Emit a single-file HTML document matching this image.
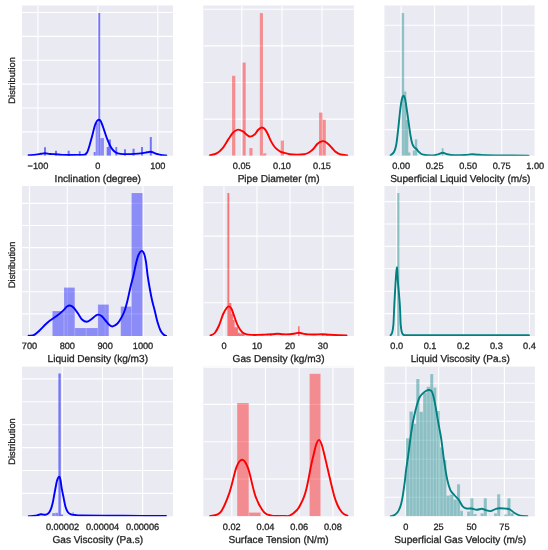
<!DOCTYPE html><html><head><meta charset="utf-8"><style>html,body{margin:0;padding:0;background:#fff;}svg{display:block;filter:blur(0.3px);}text{text-rendering:geometricPrecision;font-family:"Liberation Sans",Arial,sans-serif;fill:#262626;stroke:#262626;stroke-width:0.3px;}</style></head><body>
<svg width="548" height="550" viewBox="0 0 548 550">
<rect x="0" y="0" width="548" height="550" fill="#fff"/>
<defs><clipPath id="c00"><rect x="22.00" y="5.50" width="151.00" height="150.20"/></clipPath></defs>
<rect x="22.00" y="5.50" width="151.00" height="150.20" fill="#EAEAF2"/>
<path d="M37.90,5.50V155.70 M97.90,5.50V155.70 M157.80,5.50V155.70 M22.00,131.84H173.00 M22.00,107.98H173.00 M22.00,84.12H173.00 M22.00,60.26H173.00 M22.00,36.40H173.00 M22.00,12.54H173.00" stroke="#fff" stroke-width="1.1" fill="none" clip-path="url(#c00)"/>
<path d="M95.60,155.70H98.30V123.00H95.60Z M100.20,155.70H104.00V137.90H100.20Z" fill="#0000FF" fill-opacity="0.40" clip-path="url(#c00)"/>
<path d="M44.00,155.70H46.00V147.20H44.00Z M55.00,155.70H57.00V150.70H55.00Z M67.70,155.70H69.70V150.70H67.70Z M78.80,155.70H80.60V151.20H78.80Z M85.20,155.70H86.60V152.50H85.20Z M93.70,155.70H95.60V152.00H93.70Z M98.30,155.70H100.20V13.10H98.30Z M106.70,155.70H108.50V147.00H106.70Z M108.50,155.70H110.90V139.40H108.50Z M115.40,155.70H117.20V147.00H115.40Z M124.00,155.70H126.00V149.30H124.00Z M132.50,155.70H134.60V148.70H132.50Z M141.00,155.70H143.00V147.00H141.00Z M149.80,155.70H151.80V136.90H149.80Z" fill="#0000FF" fill-opacity="0.50" clip-path="url(#c00)"/>
<path d="M95.60,155.70V123.00H98.30V155.70 M100.20,155.70V137.90H104.00V155.70" fill="none" stroke="#fff" stroke-opacity="0.3" stroke-width="0.45" clip-path="url(#c00)"/>
<path d="M28.60,155.30 C29.83,155.18 33.93,154.85 36.00,154.60 C38.07,154.35 39.50,154.02 41.00,153.80 C42.50,153.58 43.50,153.27 45.00,153.30 C46.50,153.33 48.20,153.83 50.00,154.00 C51.80,154.17 53.80,154.15 55.80,154.30 C57.80,154.45 59.63,154.78 62.00,154.90 C64.37,155.02 67.33,155.00 70.00,155.00 C72.67,155.00 75.57,154.97 78.00,154.90 C80.43,154.83 83.10,155.00 84.60,154.60 C86.10,154.20 86.33,153.52 87.00,152.50 C87.67,151.48 88.07,150.08 88.60,148.50 C89.13,146.92 89.63,145.00 90.20,143.00 C90.77,141.00 91.22,139.42 92.00,136.50 C92.78,133.58 94.07,128.08 94.90,125.50 C95.73,122.92 96.33,121.97 97.00,121.00 C97.67,120.03 98.27,119.67 98.90,119.70 C99.53,119.73 100.08,119.90 100.80,121.20 C101.52,122.50 102.23,124.78 103.20,127.50 C104.17,130.22 105.47,134.50 106.60,137.50 C107.73,140.50 108.87,143.33 110.00,145.50 C111.13,147.67 112.10,149.20 113.40,150.50 C114.70,151.80 115.70,152.70 117.80,153.30 C119.90,153.90 123.30,154.00 126.00,154.10 C128.70,154.20 131.25,154.07 134.00,153.90 C136.75,153.73 140.33,153.37 142.50,153.10 C144.67,152.83 145.63,152.52 147.00,152.30 C148.37,152.08 149.53,151.72 150.70,151.80 C151.87,151.88 152.92,152.43 154.00,152.80 C155.08,153.17 156.03,153.63 157.20,154.00 C158.37,154.37 159.48,154.77 161.00,155.00 C162.52,155.23 165.42,155.33 166.30,155.40" stroke="#0000FF" stroke-width="1.9" fill="none" stroke-linecap="round" stroke-linejoin="round" clip-path="url(#c00)"/>
<text x="37.90" y="169.10" font-size="9.2" text-anchor="middle">−100</text>
<text x="97.90" y="169.10" font-size="9.2" text-anchor="middle">0</text>
<text x="157.80" y="169.10" font-size="9.2" text-anchor="middle">100</text>
<text x="97.80" y="181.90" font-size="10.1" text-anchor="middle">Inclination (degree)</text>
<text x="14.8" y="80.40" font-size="9.3" text-anchor="middle" transform="rotate(-90 14.8 80.40)">Distribution</text>
<defs><clipPath id="c01"><rect x="203.30" y="5.50" width="150.60" height="150.20"/></clipPath></defs>
<rect x="203.30" y="5.50" width="150.60" height="150.20" fill="#EAEAF2"/>
<path d="M241.80,5.50V155.70 M282.00,5.50V155.70 M322.00,5.50V155.70 M203.30,119.10H353.90 M203.30,82.50H353.90 M203.30,45.90H353.90 M203.30,9.30H353.90" stroke="#fff" stroke-width="1.1" fill="none" clip-path="url(#c01)"/>
<path d="M232.00,155.70H235.40V75.80H232.00Z M242.50,155.70H245.80V62.40H242.50Z M249.30,155.70H252.60V147.90H249.30Z M259.80,155.70H263.00V13.10H259.80Z M263.00,155.70H266.30V153.20H263.00Z M280.70,155.70H284.00V140.50H280.70Z M319.00,155.70H322.50V112.50H319.00Z M322.50,155.70H325.90V119.80H322.50Z" fill="#FF0000" fill-opacity="0.40" clip-path="url(#c01)"/>
<path d="M232.00,155.70V75.80H235.40V155.70 M242.50,155.70V62.40H245.80V155.70 M249.30,155.70V147.90H252.60V155.70 M259.80,155.70V13.10H263.00V155.70 M263.00,155.70V153.20H266.30V155.70 M280.70,155.70V140.50H284.00V155.70 M319.00,155.70V112.50H322.50V155.70 M322.50,155.70V119.80H325.90V155.70" fill="none" stroke="#fff" stroke-opacity="0.3" stroke-width="0.45" clip-path="url(#c01)"/>
<path d="M209.80,155.30 C210.93,154.98 214.48,154.57 216.60,153.40 C218.72,152.23 220.55,150.63 222.50,148.30 C224.45,145.97 226.52,142.05 228.30,139.40 C230.08,136.75 231.58,134.03 233.20,132.40 C234.82,130.77 236.38,129.77 238.00,129.60 C239.62,129.43 241.48,130.58 242.90,131.40 C244.32,132.22 245.32,133.63 246.50,134.50 C247.68,135.37 248.65,136.60 250.00,136.60 C251.35,136.60 253.27,135.60 254.60,134.50 C255.93,133.40 256.87,131.15 258.00,130.00 C259.13,128.85 260.32,127.80 261.40,127.60 C262.48,127.40 263.48,127.82 264.50,128.80 C265.52,129.78 266.40,131.40 267.50,133.50 C268.60,135.60 269.93,139.18 271.10,141.40 C272.27,143.62 273.52,145.50 274.50,146.80 C275.48,148.10 275.95,148.37 277.00,149.20 C278.05,150.03 279.80,151.25 280.80,151.80 C281.80,152.35 281.53,152.10 283.00,152.50 C284.47,152.90 287.27,153.85 289.60,154.20 C291.93,154.55 294.57,154.60 297.00,154.60 C299.43,154.60 302.37,154.47 304.20,154.20 C306.03,153.93 306.78,153.60 308.00,153.00 C309.22,152.40 310.42,151.52 311.50,150.60 C312.58,149.68 313.53,148.60 314.50,147.50 C315.47,146.40 316.33,144.95 317.30,144.00 C318.27,143.05 319.32,142.28 320.30,141.80 C321.28,141.32 322.25,141.03 323.20,141.10 C324.15,141.17 325.03,141.60 326.00,142.20 C326.97,142.80 328.00,143.73 329.00,144.70 C330.00,145.67 331.02,146.90 332.00,148.00 C332.98,149.10 333.90,150.42 334.90,151.30 C335.90,152.18 337.03,152.77 338.00,153.30 C338.97,153.83 339.15,154.15 340.70,154.50 C342.25,154.85 346.20,155.25 347.30,155.40" stroke="#FF0000" stroke-width="1.9" fill="none" stroke-linecap="round" stroke-linejoin="round" clip-path="url(#c01)"/>
<text x="241.80" y="169.10" font-size="9.2" text-anchor="middle">0.05</text>
<text x="282.00" y="169.10" font-size="9.2" text-anchor="middle">0.10</text>
<text x="322.00" y="169.10" font-size="9.2" text-anchor="middle">0.15</text>
<text x="278.60" y="181.90" font-size="10.1" text-anchor="middle">Pipe Diameter (m)</text>
<defs><clipPath id="c02"><rect x="384.40" y="5.50" width="150.50" height="150.20"/></clipPath></defs>
<rect x="384.40" y="5.50" width="150.50" height="150.20" fill="#EAEAF2"/>
<path d="M401.10,5.50V155.70 M434.60,5.50V155.70 M468.10,5.50V155.70 M501.70,5.50V155.70 M535.20,5.50V155.70 M384.40,129.60H534.90 M384.40,103.50H534.90 M384.40,77.40H534.90 M384.40,51.30H534.90 M384.40,25.20H534.90" stroke="#fff" stroke-width="1.1" fill="none" clip-path="url(#c02)"/>
<path d="M401.70,155.70H404.20V13.10H401.70Z M404.20,155.70H406.30V91.50H404.20Z M406.30,155.70H408.30V120.00H406.30Z M408.30,155.70H410.30V152.40H408.30Z M412.90,155.70H414.80V150.40H412.90Z M414.80,155.70H417.30V139.30H414.80Z M441.70,155.70H443.50V148.20H441.70Z" fill="#008080" fill-opacity="0.40" clip-path="url(#c02)"/>
<path d="M401.70,155.70V13.10H404.20V155.70 M414.80,155.70V139.30H417.30V155.70" fill="none" stroke="#fff" stroke-opacity="0.3" stroke-width="0.45" clip-path="url(#c02)"/>
<path d="M390.60,155.30 C391.17,154.75 393.10,153.55 394.00,152.00 C394.90,150.45 395.45,148.50 396.00,146.00 C396.55,143.50 396.85,140.62 397.30,137.00 C397.75,133.38 398.22,128.80 398.70,124.30 C399.18,119.80 399.70,114.05 400.20,110.00 C400.70,105.95 401.17,102.37 401.70,100.00 C402.23,97.63 402.82,95.88 403.40,95.80 C403.98,95.72 404.60,96.97 405.20,99.50 C405.80,102.03 406.38,106.87 407.00,111.00 C407.62,115.13 408.32,120.22 408.90,124.30 C409.48,128.38 409.95,132.28 410.50,135.50 C411.05,138.72 411.62,141.68 412.20,143.60 C412.78,145.52 413.28,146.10 414.00,147.00 C414.72,147.90 415.67,148.17 416.50,149.00 C417.33,149.83 417.88,151.07 419.00,152.00 C420.12,152.93 420.87,154.03 423.20,154.60 C425.53,155.17 430.53,155.45 433.00,155.40 C435.47,155.35 436.37,154.73 438.00,154.30 C439.63,153.87 441.30,152.82 442.80,152.80 C444.30,152.78 445.13,153.80 447.00,154.20 C448.87,154.60 451.00,155.07 454.00,155.20 C457.00,155.33 462.00,155.15 465.00,155.00 C468.00,154.85 469.50,154.33 472.00,154.30 C474.50,154.27 475.33,154.62 480.00,154.80 C484.67,154.98 491.92,155.27 500.00,155.40 C508.08,155.53 523.75,155.57 528.50,155.60" stroke="#008080" stroke-width="1.9" fill="none" stroke-linecap="round" stroke-linejoin="round" clip-path="url(#c02)"/>
<text x="401.10" y="169.10" font-size="9.2" text-anchor="middle">0.00</text>
<text x="434.60" y="169.10" font-size="9.2" text-anchor="middle">0.25</text>
<text x="468.10" y="169.10" font-size="9.2" text-anchor="middle">0.50</text>
<text x="501.70" y="169.10" font-size="9.2" text-anchor="middle">0.75</text>
<text x="535.20" y="169.10" font-size="9.2" text-anchor="middle">1.00</text>
<text x="460.25" y="181.90" font-size="10.1" text-anchor="middle">Superficial Liquid Velocity (m/s)</text>
<defs><clipPath id="c10"><rect x="22.00" y="186.00" width="151.00" height="150.00"/></clipPath></defs>
<rect x="22.00" y="186.00" width="151.00" height="150.00" fill="#EAEAF2"/>
<path d="M29.50,186.00V336.00 M67.30,186.00V336.00 M105.10,186.00V336.00 M143.00,186.00V336.00 M22.00,313.90H173.00 M22.00,291.80H173.00 M22.00,269.70H173.00 M22.00,247.60H173.00 M22.00,225.50H173.00 M22.00,203.40H173.00" stroke="#fff" stroke-width="1.1" fill="none" clip-path="url(#c10)"/>
<path d="M52.40,336.00H64.00V311.10H52.40Z M64.00,336.00H74.80V287.40H64.00Z M74.80,336.00H86.20V327.90H74.80Z M86.20,336.00H97.90V327.90H86.20Z M97.90,336.00H108.80V304.50H97.90Z M120.70,336.00H131.50V306.40H120.70Z M131.50,336.00H142.60V192.90H131.50Z" fill="#0000FF" fill-opacity="0.40" clip-path="url(#c10)"/>
<path d="M52.40,336.00V311.10H64.00V336.00 M64.00,336.00V287.40H74.80V336.00 M74.80,336.00V327.90H86.20V336.00 M86.20,336.00V327.90H97.90V336.00 M97.90,336.00V304.50H108.80V336.00 M120.70,336.00V306.40H131.50V336.00 M131.50,336.00V192.90H142.60V336.00" fill="none" stroke="#fff" stroke-opacity="0.3" stroke-width="0.45" clip-path="url(#c10)"/>
<path d="M28.60,335.60 C29.45,335.53 31.88,336.05 33.70,335.20 C35.52,334.35 37.55,332.28 39.50,330.50 C41.45,328.72 43.65,326.17 45.40,324.50 C47.15,322.83 48.13,321.90 50.00,320.50 C51.87,319.10 54.42,317.75 56.60,316.10 C58.78,314.45 61.37,312.18 63.10,310.60 C64.83,309.02 65.87,307.45 67.00,306.60 C68.13,305.75 68.82,305.35 69.90,305.50 C70.98,305.65 72.15,306.17 73.50,307.50 C74.85,308.83 76.58,311.50 78.00,313.50 C79.42,315.50 80.55,318.12 82.00,319.50 C83.45,320.88 85.20,321.80 86.70,321.80 C88.20,321.80 89.53,320.50 91.00,319.50 C92.47,318.50 94.30,316.62 95.50,315.80 C96.70,314.98 97.20,314.57 98.20,314.60 C99.20,314.63 100.28,315.02 101.50,316.00 C102.72,316.98 104.17,319.00 105.50,320.50 C106.83,322.00 108.30,324.02 109.50,325.00 C110.70,325.98 111.37,326.65 112.70,326.40 C114.03,326.15 116.03,324.98 117.50,323.50 C118.97,322.02 120.30,319.67 121.50,317.50 C122.70,315.33 123.70,313.33 124.70,310.50 C125.70,307.67 126.53,304.42 127.50,300.50 C128.47,296.58 129.50,291.20 130.50,287.00 C131.50,282.80 132.58,279.22 133.50,275.30 C134.42,271.38 135.17,266.88 136.00,263.50 C136.83,260.12 137.57,257.10 138.50,255.00 C139.43,252.90 140.65,251.07 141.60,250.90 C142.55,250.73 143.47,252.15 144.20,254.00 C144.93,255.85 145.43,258.45 146.00,262.00 C146.57,265.55 147.02,271.13 147.60,275.30 C148.18,279.47 148.77,282.88 149.50,287.00 C150.23,291.12 151.13,296.08 152.00,300.00 C152.87,303.92 153.78,306.83 154.70,310.50 C155.62,314.17 156.53,318.67 157.50,322.00 C158.47,325.33 159.50,328.42 160.50,330.50 C161.50,332.58 162.57,333.62 163.50,334.50 C164.43,335.38 165.67,335.58 166.10,335.80" stroke="#0000FF" stroke-width="1.9" fill="none" stroke-linecap="round" stroke-linejoin="round" clip-path="url(#c10)"/>
<text x="29.50" y="349.40" font-size="9.2" text-anchor="middle">700</text>
<text x="67.30" y="349.40" font-size="9.2" text-anchor="middle">800</text>
<text x="105.10" y="349.40" font-size="9.2" text-anchor="middle">900</text>
<text x="143.00" y="349.40" font-size="9.2" text-anchor="middle">1000</text>
<text x="97.80" y="362.20" font-size="10.1" text-anchor="middle">Liquid Density (kg/m3)</text>
<text x="14.8" y="264.85" font-size="9.3" text-anchor="middle" transform="rotate(-90 14.8 264.85)">Distribution</text>
<defs><clipPath id="c11"><rect x="203.30" y="186.00" width="150.60" height="150.00"/></clipPath></defs>
<rect x="203.30" y="186.00" width="150.60" height="150.00" fill="#EAEAF2"/>
<path d="M224.00,186.00V336.00 M257.00,186.00V336.00 M290.00,186.00V336.00 M322.90,186.00V336.00 M203.30,302.70H353.90 M203.30,269.40H353.90 M203.30,236.10H353.90 M203.30,202.80H353.90" stroke="#fff" stroke-width="1.1" fill="none" clip-path="url(#c11)"/>
<path d="M227.40,336.00H229.30V193.10H227.40Z M229.30,336.00H231.30V302.90H229.30Z M231.30,336.00H232.90V314.00H231.30Z M232.90,336.00H234.60V320.00H232.90Z M234.60,336.00H236.30V327.20H234.60Z M236.30,336.00H237.90V327.20H236.30Z M237.90,336.00H239.60V332.70H237.90Z M239.60,336.00H241.20V333.50H239.60Z M241.20,336.00H242.90V333.50H241.20Z M242.90,336.00H244.50V334.00H242.90Z M298.00,336.00H299.60V326.30H298.00Z M270.00,336.00H271.60V334.50H270.00Z M322.00,336.00H323.60V334.50H322.00Z M326.00,336.00H327.60V334.50H326.00Z" fill="#FF0000" fill-opacity="0.50" clip-path="url(#c11)"/>
<path d="M210.50,335.40 C211.22,335.00 213.38,334.65 214.80,333.00 C216.22,331.35 217.60,328.67 219.00,325.50 C220.40,322.33 221.90,316.95 223.20,314.00 C224.50,311.05 225.85,309.07 226.80,307.80 C227.75,306.53 228.12,306.23 228.90,306.40 C229.68,306.57 230.55,306.97 231.50,308.80 C232.45,310.63 233.55,314.60 234.60,317.40 C235.65,320.20 236.53,323.13 237.80,325.60 C239.07,328.07 240.73,330.75 242.20,332.20 C243.67,333.65 244.95,333.85 246.60,334.30 C248.25,334.75 250.20,334.80 252.10,334.90 C254.00,335.00 255.85,334.95 258.00,334.90 C260.15,334.85 262.67,334.70 265.00,334.60 C267.33,334.50 269.87,334.43 272.00,334.30 C274.13,334.17 275.97,333.80 277.80,333.80 C279.63,333.80 280.97,334.23 283.00,334.30 C285.03,334.37 288.00,334.33 290.00,334.20 C292.00,334.07 293.50,333.73 295.00,333.50 C296.50,333.27 297.67,332.78 299.00,332.80 C300.33,332.82 301.50,333.33 303.00,333.60 C304.50,333.87 306.00,334.25 308.00,334.40 C310.00,334.55 312.57,334.52 315.00,334.50 C317.43,334.48 320.10,334.25 322.60,334.30 C325.10,334.35 327.10,334.65 330.00,334.80 C332.90,334.95 337.25,335.10 340.00,335.20 C342.75,335.30 345.42,335.37 346.50,335.40" stroke="#FF0000" stroke-width="1.9" fill="none" stroke-linecap="round" stroke-linejoin="round" clip-path="url(#c11)"/>
<text x="224.00" y="349.40" font-size="9.2" text-anchor="middle">0</text>
<text x="257.00" y="349.40" font-size="9.2" text-anchor="middle">10</text>
<text x="290.00" y="349.40" font-size="9.2" text-anchor="middle">20</text>
<text x="322.90" y="349.40" font-size="9.2" text-anchor="middle">30</text>
<text x="278.60" y="362.20" font-size="10.1" text-anchor="middle">Gas Density (kg/m3)</text>
<defs><clipPath id="c12"><rect x="384.40" y="186.00" width="150.50" height="150.00"/></clipPath></defs>
<rect x="384.40" y="186.00" width="150.50" height="150.00" fill="#EAEAF2"/>
<path d="M396.70,186.00V336.00 M430.10,186.00V336.00 M463.30,186.00V336.00 M496.40,186.00V336.00 M529.50,186.00V336.00 M384.40,313.60H534.90 M384.40,291.20H534.90 M384.40,268.80H534.90 M384.40,246.40H534.90 M384.40,224.00H534.90 M384.40,201.60H534.90" stroke="#fff" stroke-width="1.1" fill="none" clip-path="url(#c12)"/>
<path d="M397.20,336.00H399.40V192.90H397.20Z" fill="#008080" fill-opacity="0.40" clip-path="url(#c12)"/>
<path d="M390.60,335.30 C390.87,334.83 391.73,334.28 392.20,332.50 C392.67,330.72 393.10,328.02 393.40,324.60 C393.70,321.18 393.82,315.87 394.00,312.00 C394.18,308.13 394.25,306.07 394.50,301.40 C394.75,296.73 395.12,289.68 395.50,284.00 C395.88,278.32 396.38,267.47 396.80,267.30 C397.22,267.13 397.53,277.32 398.00,283.00 C398.47,288.68 399.23,296.57 399.60,301.40 C399.97,306.23 400.02,308.13 400.20,312.00 C400.38,315.87 400.43,321.27 400.70,324.60 C400.97,327.93 401.28,330.27 401.80,332.00 C402.32,333.73 402.43,334.48 403.80,335.00 C405.17,335.52 402.30,335.08 410.00,335.10 C417.70,335.12 430.17,335.08 450.00,335.10 C469.83,335.12 515.83,335.18 529.00,335.20" stroke="#008080" stroke-width="1.9" fill="none" stroke-linecap="round" stroke-linejoin="round" clip-path="url(#c12)"/>
<text x="396.70" y="349.40" font-size="9.2" text-anchor="middle">0.0</text>
<text x="430.10" y="349.40" font-size="9.2" text-anchor="middle">0.1</text>
<text x="463.30" y="349.40" font-size="9.2" text-anchor="middle">0.2</text>
<text x="496.40" y="349.40" font-size="9.2" text-anchor="middle">0.3</text>
<text x="529.50" y="349.40" font-size="9.2" text-anchor="middle">0.4</text>
<text x="460.25" y="362.20" font-size="10.1" text-anchor="middle">Liquid Viscosity (Pa.s)</text>
<defs><clipPath id="c20"><rect x="22.00" y="366.60" width="151.00" height="149.70"/></clipPath></defs>
<rect x="22.00" y="366.60" width="151.00" height="149.70" fill="#EAEAF2"/>
<path d="M62.50,366.60V516.30 M102.50,366.60V516.30 M142.60,366.60V516.30 M22.00,493.40H173.00 M22.00,470.50H173.00 M22.00,447.60H173.00 M22.00,424.70H173.00 M22.00,401.80H173.00 M22.00,378.90H173.00" stroke="#fff" stroke-width="1.1" fill="none" clip-path="url(#c20)"/>
<path d="M52.10,516.30H55.20V513.00H52.10Z M55.20,516.30H58.40V512.70H55.20Z" fill="#0000FF" fill-opacity="0.40" clip-path="url(#c20)"/>
<path d="M58.40,516.30H60.80V373.60H58.40Z M60.80,516.30H63.10V514.40H60.80Z M72.60,516.30H73.60V512.30H72.60Z" fill="#0000FF" fill-opacity="0.50" clip-path="url(#c20)"/>
<path d="M52.10,516.30V513.00H55.20V516.30 M55.20,516.30V512.70H58.40V516.30" fill="none" stroke="#fff" stroke-opacity="0.3" stroke-width="0.45" clip-path="url(#c20)"/>
<path d="M28.70,516.20 C29.75,516.13 33.45,516.00 35.00,515.80 C36.55,515.60 37.03,515.25 38.00,515.00 C38.97,514.75 39.88,514.37 40.80,514.30 C41.72,514.23 42.65,514.53 43.50,514.60 C44.35,514.67 45.02,514.98 45.90,514.70 C46.78,514.42 47.95,513.87 48.80,512.90 C49.65,511.93 50.33,510.63 51.00,508.90 C51.67,507.17 52.25,504.90 52.80,502.50 C53.35,500.10 53.83,497.00 54.30,494.50 C54.77,492.00 55.12,489.92 55.60,487.50 C56.08,485.08 56.58,481.78 57.20,480.00 C57.82,478.22 58.73,476.72 59.30,476.80 C59.87,476.88 60.20,478.60 60.60,480.50 C61.00,482.40 61.22,485.40 61.70,488.20 C62.18,491.00 62.88,494.27 63.50,497.30 C64.12,500.33 64.72,503.98 65.40,506.40 C66.08,508.82 66.77,510.52 67.60,511.80 C68.43,513.08 69.17,513.57 70.40,514.10 C71.63,514.63 73.18,514.77 75.00,515.00 C76.82,515.23 75.87,515.38 81.30,515.50 C86.73,515.62 97.82,515.63 107.60,515.70 C117.38,515.77 130.27,515.85 140.00,515.90 C149.73,515.95 161.67,515.98 166.00,516.00" stroke="#0000FF" stroke-width="1.9" fill="none" stroke-linecap="round" stroke-linejoin="round" clip-path="url(#c20)"/>
<text x="62.50" y="529.70" font-size="9.2" text-anchor="middle">0.00002</text>
<text x="102.50" y="529.70" font-size="9.2" text-anchor="middle">0.00004</text>
<text x="142.60" y="529.70" font-size="9.2" text-anchor="middle">0.00006</text>
<text x="97.80" y="542.50" font-size="10.1" text-anchor="middle">Gas Viscosity (Pa.s)</text>
<text x="14.8" y="441.50" font-size="9.3" text-anchor="middle" transform="rotate(-90 14.8 441.50)">Distribution</text>
<defs><clipPath id="c21"><rect x="203.30" y="366.60" width="150.60" height="149.70"/></clipPath></defs>
<rect x="203.30" y="366.60" width="150.60" height="149.70" fill="#EAEAF2"/>
<path d="M231.80,366.60V516.30 M265.50,366.60V516.30 M299.20,366.60V516.30 M332.90,366.60V516.30 M203.30,479.00H353.90 M203.30,441.70H353.90 M203.30,404.40H353.90 M203.30,367.10H353.90" stroke="#fff" stroke-width="1.1" fill="none" clip-path="url(#c21)"/>
<path d="M237.10,516.30H248.80V402.90H237.10Z M248.80,516.30H260.70V512.40H248.80Z M309.50,516.30H320.60V373.70H309.50Z" fill="#FF0000" fill-opacity="0.40" clip-path="url(#c21)"/>
<path d="M237.10,516.30V402.90H248.80V516.30 M248.80,516.30V512.40H260.70V516.30 M309.50,516.30V373.70H320.60V516.30" fill="none" stroke="#fff" stroke-opacity="0.3" stroke-width="0.45" clip-path="url(#c21)"/>
<path d="M210.20,515.90 C211.90,515.32 217.23,516.15 220.40,512.40 C223.57,508.65 226.52,500.95 229.20,493.40 C231.88,485.85 234.32,472.70 236.50,467.10 C238.68,461.50 240.35,459.55 242.30,459.80 C244.25,460.05 246.00,462.52 248.20,468.60 C250.40,474.68 252.83,489.00 255.50,496.30 C258.17,503.60 261.50,509.18 264.20,512.40 C266.90,515.62 269.57,515.00 271.70,515.60 C273.83,516.20 275.12,515.95 277.00,516.00 C278.88,516.05 280.87,515.97 283.00,515.90 C285.13,515.83 287.47,516.58 289.80,515.60 C292.13,514.62 295.22,511.85 297.00,510.00 C298.78,508.15 299.35,506.63 300.50,504.50 C301.65,502.37 302.90,499.87 303.90,497.20 C304.90,494.53 305.70,491.70 306.50,488.50 C307.30,485.30 307.92,481.92 308.70,478.00 C309.48,474.08 310.35,469.00 311.20,465.00 C312.05,461.00 312.97,457.42 313.80,454.00 C314.63,450.58 315.35,446.85 316.20,444.50 C317.05,442.15 318.02,439.98 318.90,439.90 C319.78,439.82 320.62,441.65 321.50,444.00 C322.38,446.35 323.28,450.33 324.20,454.00 C325.12,457.67 326.07,462.00 327.00,466.00 C327.93,470.00 328.93,474.33 329.80,478.00 C330.67,481.67 331.40,484.80 332.20,488.00 C333.00,491.20 333.72,494.37 334.60,497.20 C335.48,500.03 336.57,502.87 337.50,505.00 C338.43,507.13 339.20,508.53 340.20,510.00 C341.20,511.47 342.30,512.87 343.50,513.80 C344.70,514.73 346.75,515.30 347.40,515.60" stroke="#FF0000" stroke-width="1.9" fill="none" stroke-linecap="round" stroke-linejoin="round" clip-path="url(#c21)"/>
<text x="231.80" y="529.70" font-size="9.2" text-anchor="middle">0.02</text>
<text x="265.50" y="529.70" font-size="9.2" text-anchor="middle">0.04</text>
<text x="299.20" y="529.70" font-size="9.2" text-anchor="middle">0.06</text>
<text x="332.90" y="529.70" font-size="9.2" text-anchor="middle">0.08</text>
<text x="278.60" y="542.50" font-size="10.1" text-anchor="middle">Surface Tension (N/m)</text>
<defs><clipPath id="c22"><rect x="384.40" y="366.60" width="150.50" height="149.70"/></clipPath></defs>
<rect x="384.40" y="366.60" width="150.50" height="149.70" fill="#EAEAF2"/>
<path d="M405.90,366.60V516.30 M438.60,366.60V516.30 M471.60,366.60V516.30 M504.40,366.60V516.30 M384.40,497.30H534.90 M384.40,478.30H534.90 M384.40,459.30H534.90 M384.40,440.30H534.90 M384.40,421.30H534.90 M384.40,402.30H534.90 M384.40,383.30H534.90" stroke="#fff" stroke-width="1.1" fill="none" clip-path="url(#c22)"/>
<path d="M406.00,516.30H409.40V438.20H406.00Z M409.40,516.30H412.90V411.50H409.40Z M412.90,516.30H416.20V423.70H412.90Z M416.20,516.30H419.50V378.90H416.20Z M419.50,516.30H423.10V411.70H419.50Z M423.10,516.30H426.80V392.50H423.10Z M426.80,516.30H430.20V386.80H426.80Z M430.20,516.30H433.30V373.90H430.20Z M433.30,516.30H436.40V387.50H433.30Z M436.40,516.30H439.80V411.00H436.40Z M439.80,516.30H443.20V447.20H439.80Z M443.20,516.30H446.40V460.10H443.20Z M446.40,516.30H449.80V495.50H446.40Z M449.80,516.30H453.60V494.40H449.80Z M453.60,516.30H457.00V499.50H453.60Z M457.00,516.30H460.10V484.20H457.00Z M460.10,516.30H463.00V510.80H460.10Z M467.10,516.30H470.30V511.40H467.10Z M470.30,516.30H473.50V498.20H470.30Z M473.50,516.30H476.70V514.00H473.50Z M480.50,516.30H483.70V513.30H480.50Z M483.70,516.30H486.90V498.20H483.70Z M494.00,516.30H497.10V513.30H494.00Z M497.10,516.30H500.30V494.20H497.10Z M504.20,516.30H507.40V514.60H504.20Z M507.40,516.30H510.60V498.20H507.40Z M510.60,516.30H513.70V513.30H510.60Z" fill="#008080" fill-opacity="0.40" clip-path="url(#c22)"/>
<path d="M406.00,516.30V438.20H409.40V516.30 M409.40,516.30V411.50H412.90V516.30 M412.90,516.30V423.70H416.20V516.30 M416.20,516.30V378.90H419.50V516.30 M419.50,516.30V411.70H423.10V516.30 M423.10,516.30V392.50H426.80V516.30 M426.80,516.30V386.80H430.20V516.30 M430.20,516.30V373.90H433.30V516.30 M433.30,516.30V387.50H436.40V516.30 M436.40,516.30V411.00H439.80V516.30 M439.80,516.30V447.20H443.20V516.30 M443.20,516.30V460.10H446.40V516.30 M446.40,516.30V495.50H449.80V516.30 M449.80,516.30V494.40H453.60V516.30 M453.60,516.30V499.50H457.00V516.30 M457.00,516.30V484.20H460.10V516.30 M460.10,516.30V510.80H463.00V516.30 M467.10,516.30V511.40H470.30V516.30 M470.30,516.30V498.20H473.50V516.30 M473.50,516.30V514.00H476.70V516.30 M480.50,516.30V513.30H483.70V516.30 M483.70,516.30V498.20H486.90V516.30 M494.00,516.30V513.30H497.10V516.30 M497.10,516.30V494.20H500.30V516.30 M504.20,516.30V514.60H507.40V516.30 M507.40,516.30V498.20H510.60V516.30 M510.60,516.30V513.30H513.70V516.30" fill="none" stroke="#fff" stroke-opacity="0.3" stroke-width="0.45" clip-path="url(#c22)"/>
<path d="M390.80,516.20 C391.33,516.07 392.87,516.05 394.00,515.40 C395.13,514.75 396.53,513.80 397.60,512.30 C398.67,510.80 399.63,508.60 400.40,506.40 C401.17,504.20 401.68,501.68 402.20,499.10 C402.72,496.52 403.05,493.93 403.50,490.90 C403.95,487.87 404.48,484.30 404.90,480.90 C405.32,477.50 405.48,474.50 406.00,470.50 C406.52,466.50 407.25,462.37 408.00,456.90 C408.75,451.43 409.77,443.02 410.50,437.70 C411.23,432.38 411.78,428.62 412.40,425.00 C413.02,421.38 413.55,418.95 414.20,416.00 C414.85,413.05 415.45,410.30 416.30,407.30 C417.15,404.30 418.25,400.28 419.30,398.00 C420.35,395.72 421.52,394.77 422.60,393.60 C423.68,392.43 424.72,391.60 425.80,391.00 C426.88,390.40 428.10,389.92 429.10,390.00 C430.10,390.08 431.07,390.43 431.80,391.50 C432.53,392.57 432.85,393.77 433.50,396.40 C434.15,399.03 435.03,403.67 435.70,407.30 C436.37,410.93 436.87,414.57 437.50,418.20 C438.13,421.83 438.85,425.47 439.50,429.10 C440.15,432.73 440.65,434.83 441.40,440.00 C442.15,445.17 443.03,453.53 444.00,460.10 C444.97,466.67 446.13,474.40 447.20,479.40 C448.27,484.40 449.15,487.42 450.40,490.10 C451.65,492.78 453.30,493.87 454.70,495.50 C456.10,497.13 457.47,498.10 458.80,499.90 C460.13,501.70 461.42,504.87 462.70,506.30 C463.98,507.73 465.02,508.13 466.50,508.50 C467.98,508.87 469.90,508.30 471.60,508.50 C473.30,508.70 475.00,509.65 476.70,509.70 C478.40,509.75 480.32,508.73 481.80,508.80 C483.28,508.87 484.10,509.72 485.60,510.10 C487.10,510.48 489.08,511.32 490.80,511.10 C492.52,510.88 494.42,509.28 495.90,508.80 C497.38,508.32 498.00,508.23 499.70,508.20 C501.40,508.17 504.40,508.38 506.10,508.60 C507.80,508.82 508.42,508.72 509.90,509.50 C511.38,510.28 513.30,512.28 515.00,513.30 C516.70,514.32 518.03,515.12 520.10,515.60 C522.17,516.08 526.18,516.10 527.40,516.20" stroke="#008080" stroke-width="1.9" fill="none" stroke-linecap="round" stroke-linejoin="round" clip-path="url(#c22)"/>
<text x="405.90" y="529.70" font-size="9.2" text-anchor="middle">0</text>
<text x="438.60" y="529.70" font-size="9.2" text-anchor="middle">25</text>
<text x="471.60" y="529.70" font-size="9.2" text-anchor="middle">50</text>
<text x="504.40" y="529.70" font-size="9.2" text-anchor="middle">75</text>
<text x="460.25" y="542.50" font-size="10.1" text-anchor="middle">Superficial Gas Velocity (m/s)</text>
</svg></body></html>
